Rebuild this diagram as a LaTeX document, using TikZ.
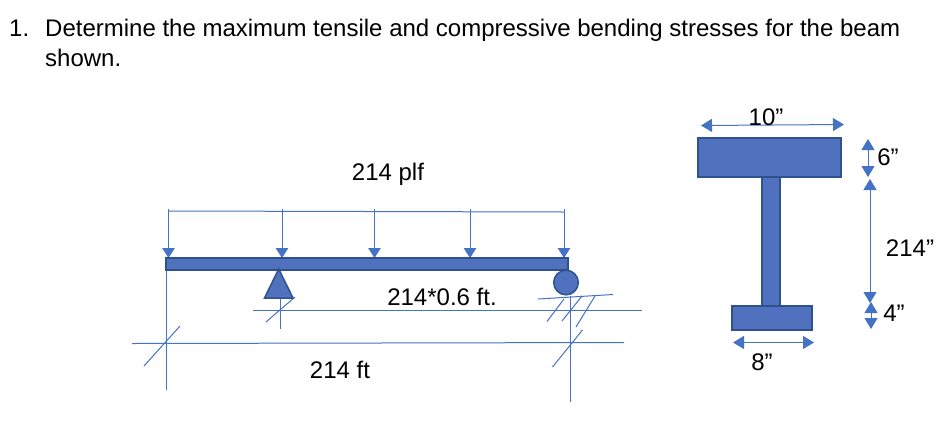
\documentclass[tikz,border=0pt]{standalone}
\usepackage{fontspec}
\setmainfont{Liberation Sans}
\usetikzlibrary{arrows.meta}
\definecolor{linecol}{HTML}{4472C4}
\definecolor{fillcol}{HTML}{4F71BE}
\definecolor{edgecol}{HTML}{2F528F}
\tikzset{
  member/.style={fill=fillcol, draw=edgecol, line width=1.5pt},
  thin line/.style={draw=linecol, line width=1pt},
  load/.style={thin line, -{Triangle[length=10pt,width=12.5pt]}},
  dimen/.style={thin line, {Triangle[length=11pt,width=13pt]}-{Triangle[length=11pt,width=13pt]}},
  label/.style={font=\fontsize{24}{28}\selectfont, inner sep=0pt}
}
\begin{document}
\begin{tikzpicture}[x=1pt, y=-1pt]
  \useasboundingbox (0,0) rectangle (940,432);
  %% question text
  \node[label, anchor=base west] (num) at (9,36) {1.};
  \node[label, anchor=base west] (line1) at (45,36) {Determine the maximum tensile and compressive bending stresses for the beam};
  \node[label, anchor=base west] (line2) at (45,66) {shown.};
  %% distributed load
  \draw[thin line] (168.5,211) -- (564,212);
  \foreach \x in {168.5,282,374.5,470,564} {
    \draw[load] (\x,209) -- (\x,258);
  }
  %% dimension lines
  \draw[thin line] (253,310) -- (642,310);
  \draw[thin line] (132,343.5) -- (624,342.5);
  \draw[thin line] (166,270) -- (166,390);
  \draw[thin line] (280,298) -- (280,329);
  \draw[thin line] (570.5,296) -- (570.5,402);
  \draw[thin line] (144,366) -- (180,326);
  \draw[thin line] (266,322) -- (295,297);
  \draw[thin line] (552.5,367) -- (582.5,330);
  %% ground under the roller
  \draw[thin line] (538,299) -- (613,294.5);
  \draw[thin line] (547,321.5) -- (564,299);
  \draw[thin line] (562,321) -- (582,296);
  \draw[thin line] (576,327) -- (595,296);
  %% beam and supports
  \draw[member] (166,258) rectangle (568,270);
  \draw[member] (278.7,269) -- (293,298) -- (264.5,298) -- cycle;
  \draw[member] (566,282.5) circle [radius=12.3];
  \node[label] (udl) at (388,174) {214 plf};
  \node[label] (part) at (442,297) {214*0.6 ft.};
  \node[label] (span) at (340,370) {214 ft};
  %% cross section
  \draw[member] (762,176) rectangle (780,306);
  \draw[member] (698,138) rectangle (841,177);
  \draw[member] (732,306) rectangle (812,330);
  \draw[dimen] (701,125.5) -- (844,124.5);
  \draw[dimen] (868,139) -- (868,177);
  \draw[dimen] (870,179) -- (870,303);
  \draw[dimen] (871,302) -- (871,329);
  \draw[dimen] (733,342.5) -- (814,342.5);
  \node[label] (top) at (766,117) {10”};
  \node[label] (flange) at (888,157) {6”};
  \node[label] (web) at (910,248) {214”};
  \node[label] (bottom) at (894,313) {4”};
  \node[label] (base) at (762,362) {8”};
\end{tikzpicture}
\end{document}
